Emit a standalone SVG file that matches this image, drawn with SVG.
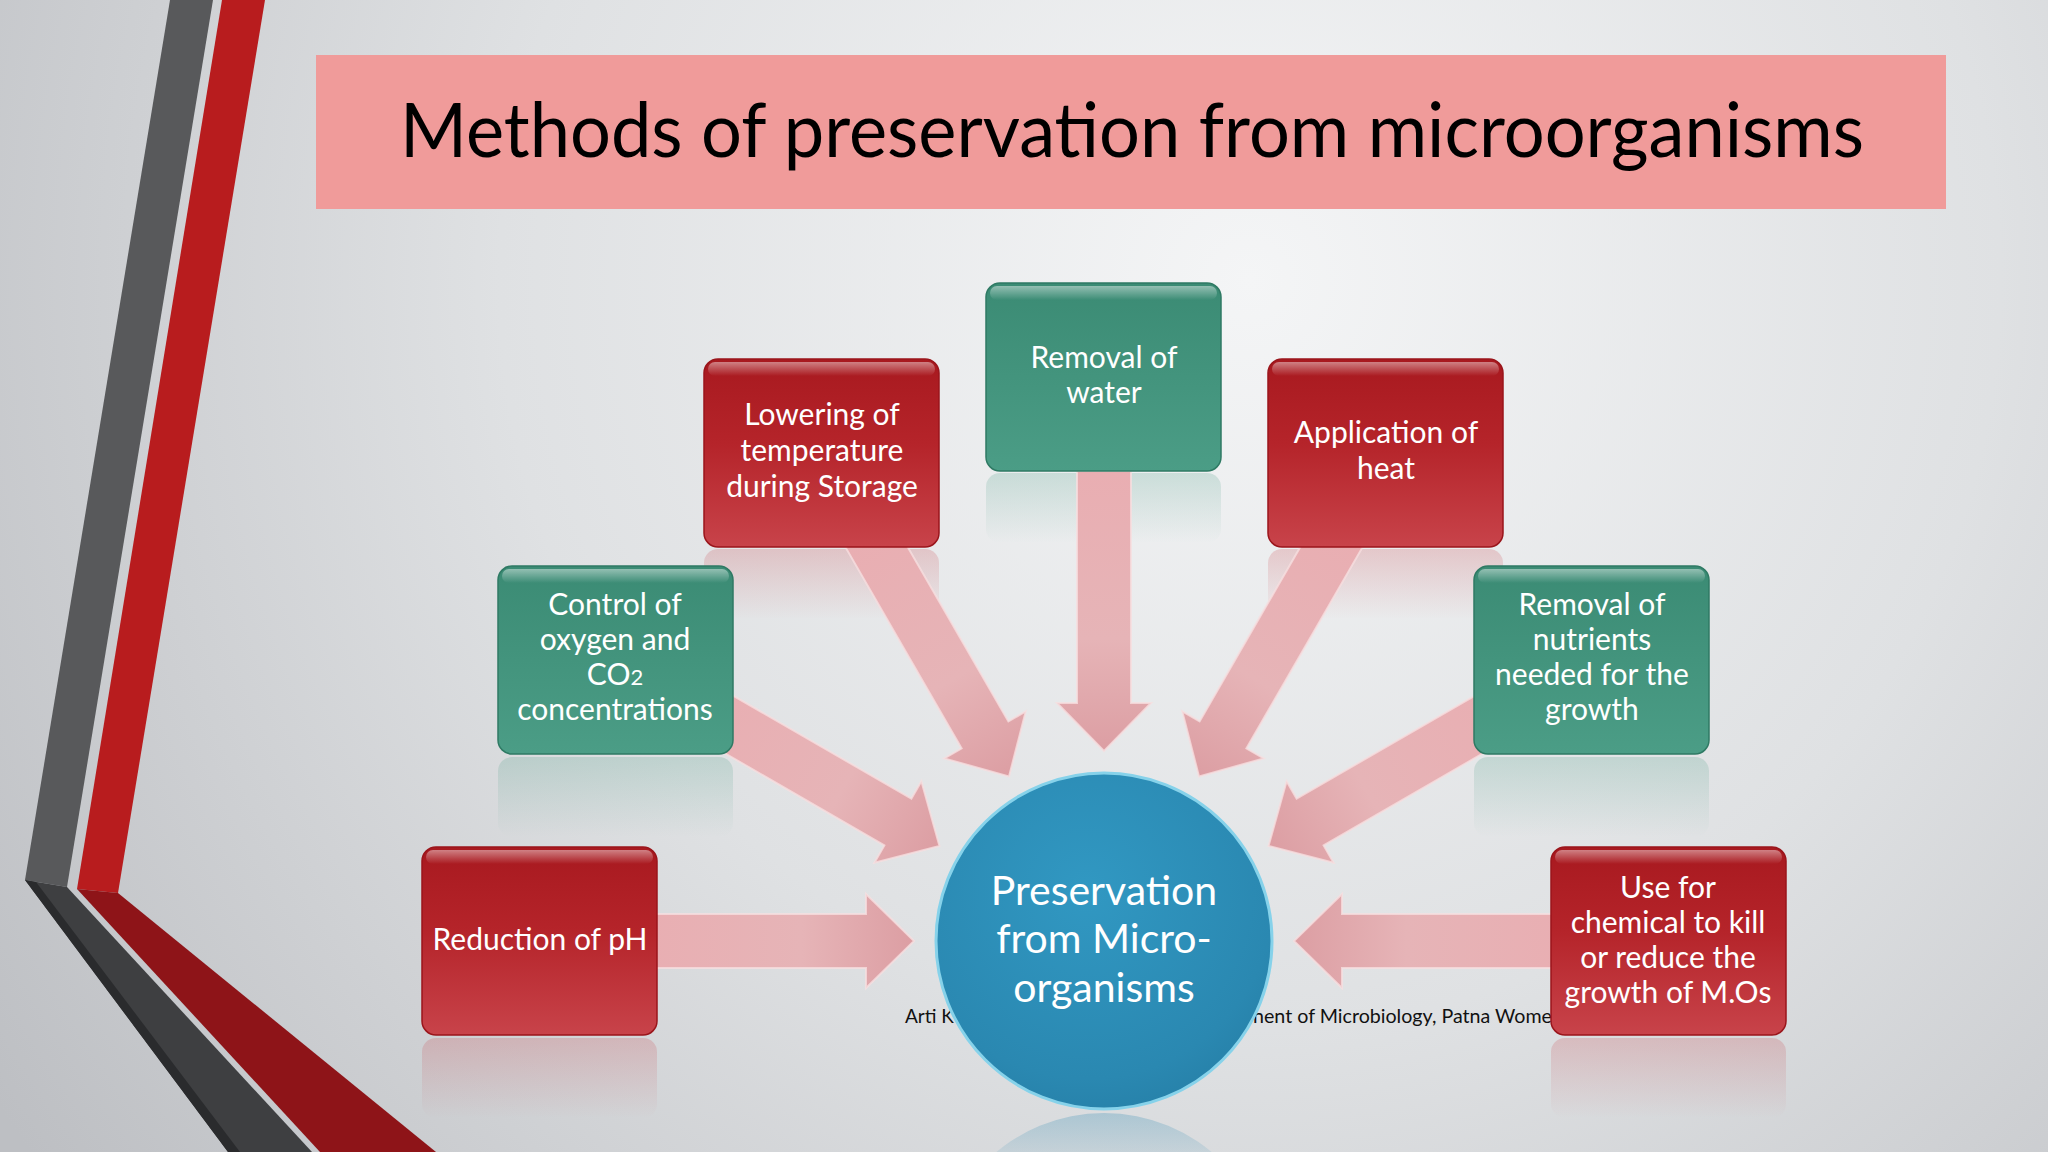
<svg xmlns="http://www.w3.org/2000/svg" width="2048" height="1152" viewBox="0 0 2048 1152">
<defs>
<radialGradient id="bg" cx="1250" cy="280" r="1500" gradientUnits="userSpaceOnUse">
<stop offset="0" stop-color="#f4f5f6"/>
<stop offset="0.5" stop-color="#dfe1e3"/>
<stop offset="1" stop-color="#bdbfc3"/>
</radialGradient>
<linearGradient id="redFill" x1="0" y1="0" x2="0" y2="1">
<stop offset="0" stop-color="#a8191f"/>
<stop offset="0.45" stop-color="#b5242a"/>
<stop offset="1" stop-color="#c8434a"/>
</linearGradient>
<linearGradient id="tealFill" x1="0" y1="0" x2="0" y2="1">
<stop offset="0" stop-color="#3b8b74"/>
<stop offset="1" stop-color="#4b9d86"/>
</linearGradient>
<linearGradient id="gloss" x1="0" y1="0" x2="0" y2="1">
<stop offset="0" stop-color="#ffffff" stop-opacity="0.45"/>
<stop offset="1" stop-color="#ffffff" stop-opacity="0"/>
</linearGradient>
<linearGradient id="reflRed" x1="0" y1="0" x2="0" y2="1">
<stop offset="0" stop-color="#c8434a" stop-opacity="0.22"/>
<stop offset="1" stop-color="#c8434a" stop-opacity="0"/>
</linearGradient>
<linearGradient id="reflTeal" x1="0" y1="0" x2="0" y2="1">
<stop offset="0" stop-color="#4b9d86" stop-opacity="0.22"/>
<stop offset="1" stop-color="#4b9d86" stop-opacity="0"/>
</linearGradient>
<linearGradient id="arrowFill" x1="-470" y1="0" x2="-190" y2="0" gradientUnits="userSpaceOnUse">
<stop offset="0" stop-color="#e9aeb2"/>
<stop offset="0.6" stop-color="#e6b4b7"/>
<stop offset="1" stop-color="#dc9ea3"/>
</linearGradient>
<radialGradient id="circFill" cx="0.45" cy="0.35" r="0.7">
<stop offset="0" stop-color="#3198c2"/>
<stop offset="0.8" stop-color="#2a88b1"/>
<stop offset="1" stop-color="#2680a8"/>
</radialGradient>
<linearGradient id="circRefl" x1="0" y1="1110" x2="0" y2="1180" gradientUnits="userSpaceOnUse">
<stop offset="0" stop-color="#2a88b1" stop-opacity="0.28"/>
<stop offset="1" stop-color="#2a88b1" stop-opacity="0"/>
</linearGradient>
<path id="arrow" d="M-470,-27 L-238,-27 L-238,-47 L-190,0 L-238,47 L-238,27 L-470,27 Z"/>
<style>
.bt{font-family:Lato,"Open Sans","Liberation Sans",sans-serif;font-size:30px;fill:#ffffff;text-anchor:middle}
.arr{fill:url(#arrowFill);stroke:#f6dfe0;stroke-width:2;stroke-opacity:0.8}
.redbox{fill:url(#redFill);stroke:#9a151b;stroke-width:1.5}
.tealbox{fill:url(#tealFill);stroke:#2f7a64;stroke-width:1.5}
.gl{fill:url(#gloss)}
</style>
</defs>

<rect x="0" y="0" width="2048" height="1152" fill="url(#bg)"/>

<g id="decoration">
<polygon points="170,0 213,0 67,887 25,880" fill="#58595b"/>
<polygon points="222,0 265,0 118,893 77,889" fill="#b81c1e"/>
<polygon points="25,880 67,887 312,1152 228,1152" fill="#3e3f41"/>
<polygon points="25,880 36,882 240,1152 228,1152" fill="#2a2b2d"/>
<polygon points="77,889 118,893 436,1152 320,1152" fill="#8e1418"/>
</g>

<g id="title">
<rect x="316" y="55" width="1630" height="154" fill="#f09b9a"/>
<text x="1132" y="157" font-family="Lato,'Open Sans','Liberation Sans',sans-serif" font-size="76" fill="#000000" text-anchor="middle" textLength="1464" lengthAdjust="spacingAndGlyphs">Methods of preservation from microorganisms</text>
</g>

<g id="footer" font-family="Lato,'Open Sans','Liberation Sans',sans-serif" font-size="19" fill="#111111">
<text x="905" y="1023">Arti K</text>
<text x="1253" y="1023" textLength="299" lengthAdjust="spacingAndGlyphs">nent of Microbiology, Patna Wome</text>
</g>

<g id="reflections">
<rect x="422" y="1038" width="235" height="80" rx="14" fill="url(#reflRed)"/>
<rect x="1551" y="1038" width="235" height="80" rx="14" fill="url(#reflRed)"/>
<rect x="498" y="757" width="235" height="80" rx="14" fill="url(#reflTeal)"/>
<rect x="1474" y="757" width="235" height="80" rx="14" fill="url(#reflTeal)"/>
<rect x="704" y="549" width="235" height="70" rx="14" fill="url(#reflRed)"/>
<rect x="1268" y="549" width="235" height="70" rx="14" fill="url(#reflRed)"/>
<rect x="986" y="473" width="235" height="70" rx="14" fill="url(#reflTeal)"/>
<circle cx="1104" cy="1281" r="168" fill="url(#circRefl)"/>
</g>

<g id="connectors">
<use href="#arrow" class="arr" transform="translate(1104,941) rotate(0)"/>
<use href="#arrow" class="arr" transform="translate(1104,941) rotate(30)"/>
<use href="#arrow" class="arr" transform="translate(1104,941) rotate(60)"/>
<use href="#arrow" class="arr" transform="translate(1104,941) rotate(90)"/>
<use href="#arrow" class="arr" transform="translate(1104,941) rotate(120)"/>
<use href="#arrow" class="arr" transform="translate(1104,941) rotate(150)"/>
<use href="#arrow" class="arr" transform="translate(1104,941) rotate(180)"/>
</g>

<g id="node-water">
<rect class="tealbox" x="986" y="283" width="235" height="188" rx="14"/>
<rect class="gl" x="990" y="286" width="227" height="14" rx="7"/>
<text class="bt" x="1104" y="368">Removal of</text>
<text class="bt" x="1104" y="403">water</text>
</g>

<g id="node-lowering">
<rect class="redbox" x="704" y="359" width="235" height="188" rx="14"/>
<rect class="gl" x="708" y="362" width="227" height="14" rx="7"/>
<text class="bt" x="822" y="425">Lowering of</text>
<text class="bt" x="822" y="461">temperature</text>
<text class="bt" x="822" y="497">during Storage</text>
</g>

<g id="node-heat">
<rect class="redbox" x="1268" y="359" width="235" height="188" rx="14"/>
<rect class="gl" x="1272" y="362" width="227" height="14" rx="7"/>
<text class="bt" x="1386" y="443">Application of</text>
<text class="bt" x="1386" y="479">heat</text>
</g>

<g id="node-control">
<rect class="tealbox" x="498" y="566" width="235" height="188" rx="14"/>
<rect class="gl" x="502" y="569" width="227" height="14" rx="7"/>
<text class="bt" x="615" y="615">Control of</text>
<text class="bt" x="615" y="650">oxygen and</text>
<text class="bt" x="615" y="685">CO<tspan font-size="22">2</tspan></text>
<text class="bt" x="615" y="720">concentrations</text>
</g>

<g id="node-nutrients">
<rect class="tealbox" x="1474" y="566" width="235" height="188" rx="14"/>
<rect class="gl" x="1478" y="569" width="227" height="14" rx="7"/>
<text class="bt" x="1592" y="615">Removal of</text>
<text class="bt" x="1592" y="650">nutrients</text>
<text class="bt" x="1592" y="685">needed for the</text>
<text class="bt" x="1592" y="720">growth</text>
</g>

<g id="node-ph">
<rect class="redbox" x="422" y="847" width="235" height="188" rx="14"/>
<rect class="gl" x="426" y="850" width="227" height="14" rx="7"/>
<text class="bt" x="540" y="950">Reduction of pH</text>
</g>

<g id="node-chemical">
<rect class="redbox" x="1551" y="847" width="235" height="188" rx="14"/>
<rect class="gl" x="1555" y="850" width="227" height="14" rx="7"/>
<text class="bt" x="1668" y="898">Use for</text>
<text class="bt" x="1668" y="933">chemical to kill</text>
<text class="bt" x="1668" y="968">or reduce the</text>
<text class="bt" x="1668" y="1003">growth of M.Os</text>
</g>

<g id="node-center">
<circle cx="1104" cy="941" r="168" fill="url(#circFill)" stroke="#86d2ea" stroke-width="3"/>
<g font-family="Lato,'Open Sans','Liberation Sans',sans-serif" font-size="41" fill="#ffffff" text-anchor="middle">
<text x="1104" y="905">Preservation</text>
<text x="1104" y="953">from Micro-</text>
<text x="1104" y="1002">organisms</text>
</g>
</g>
</svg>
